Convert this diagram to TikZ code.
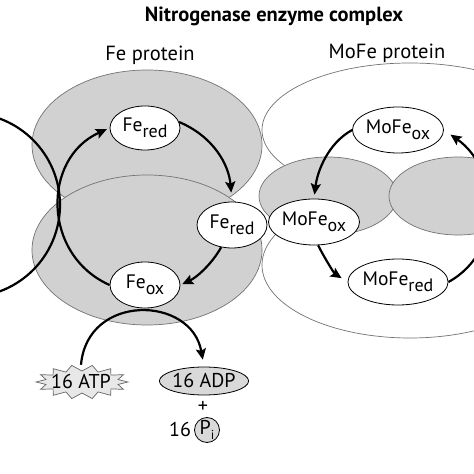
\documentclass[tikz,border=0pt]{standalone}
\usepackage{fontspec}
\setmainfont{PT Sans}
\usetikzlibrary{arrows.meta,shapes.geometric}
\newcommand{\lowsub}[1]{\raisebox{-6.5pt}{\fontsize{18}{18}\selectfont #1}}
\begin{document}
\begin{tikzpicture}[x=1pt,y=1pt,
  bigfill/.style={draw=black!55,line width=0.7pt,fill=black!18},
  bigwhite/.style={draw=black!55,line width=0.7pt,fill=white},
  state/.style={ellipse,draw=black,line width=0.8pt,fill=white,inner sep=0pt,font=\fontsize{19.5}{20}\selectfont},
  flow/.style={line width=2.2pt,-{Stealth[length=11pt,width=10pt,inset=2pt]}},
  plain/.style={line width=2.2pt},
  lbl/.style={inner sep=0pt,font=\fontsize{20.5}{22}\selectfont},
  small/.style={inner sep=0pt,font=\fontsize{20}{20}\selectfont}]
\clip (0,0) rectangle (474,474);
\fill[white] (0,0) rectangle (474,474);
% titles
\node[lbl,font=\fontsize{20.5}{22}\bfseries] (title) at (274,458) {Nitrogenase enzyme complex};
\node[lbl] (fep) at (150,419) {Fe protein};
\node[lbl] (mofep) at (387,421) {MoFe protein};
% protein bodies
\draw[bigfill] (147,329) ellipse[x radius=115,y radius=75];
\draw[bigfill] (147,224) ellipse[x radius=115,y radius=75];
\draw[bigwhite] (410,344) ellipse[x radius=148,y radius=67];
\draw[bigwhite] (410,209) ellipse[x radius=148,y radius=73];
\draw[bigfill] (328,278) ellipse[x radius=69,y radius=39];
\draw[bigfill] (458,278) ellipse[x radius=69,y radius=39];
% states
\node[state,minimum width=70pt,minimum height=44pt] (fered1) at (145,346) {Fe\lowsub{red}};
\node[state,minimum width=70pt,minimum height=46pt] (fered2) at (232,249) {Fe\lowsub{red}};
\node[state,minimum width=70pt,minimum height=46pt] (feox) at (145,189) {Fe\lowsub{ox}};
\node[state,minimum width=82pt,minimum height=46pt] (mofeox1) at (398,344) {MoFe\lowsub{ox}};
\node[state,minimum width=82pt,minimum height=46pt] (mofeox2) at (314,252) {MoFe\lowsub{ox}};
\node[state,minimum width=82pt,minimum height=46pt] (mofered) at (398,192) {MoFe\lowsub{red}};
% ATP / ADP / Pi
\draw[fill=black!9,draw=black!60,line width=0.7pt] plot[samples at={0,...,27},variable=\k]
  ({82+(46-9*mod(\k,2))*cos(12.857*\k)},{92+(17-6*mod(\k,2))*sin(12.857*\k)}) -- cycle;
\node[small,minimum height=34pt] (atp) at (81,92) {16 ATP};
\node[ellipse,draw=black,line width=0.8pt,fill=black!15,minimum width=74pt,minimum height=28pt,inner sep=0pt,font=\fontsize{20}{20}\selectfont] (adp) at (204,93) {16 ADP};
\node[small] (plus) at (203,67) {+};
\node[small] (sixteen) at (180,44) {16};
\node[circle,draw=black,line width=0.8pt,fill=black!15,minimum size=25pt,inner sep=0pt,font=\fontsize{20}{20}\selectfont] (pi) at (207,44) {P\raisebox{-4.5pt}{\fontsize{13}{13}\selectfont i}};
% Fe cycle
\draw[flow,shorten >=3pt] (feox.west) to[out=156,in=204,looseness=1.21] (fered1.west);
\draw[flow,shorten >=9pt] (fered1.10) to[out=-23,in=95,looseness=1] (fered2.north);
\draw[flow,shorten >=2pt] (fered2.244) to[out=-119,in=25,looseness=0.85] (feox.east);
% outer left arc
\draw[plain] (-32,269) circle[radius=92];
% ATP arc
\draw[flow,shorten >=7pt] (atp.north) to[out=85,in=100,looseness=1.5] (adp.north);
% MoFe cycle
\draw[flow,shorten >=4pt] (mofeox1.west) to[out=209,in=83,looseness=0.9] (mofeox2.north);
\draw[flow,shorten >=7pt] (mofeox2.280) to[out=-63,in=147,looseness=0.86] (mofered.west);
\draw[flow,shorten >=8pt] (mofered.east) to[out=29,in=-35,looseness=1.11] (mofeox1.east);
\end{tikzpicture}
\end{document}
